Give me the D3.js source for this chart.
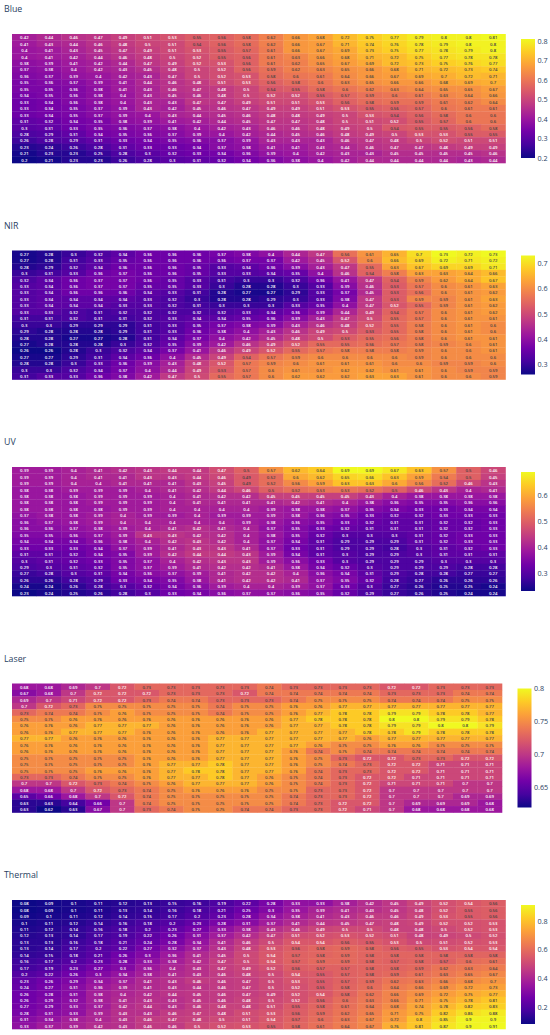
<!DOCTYPE html>
<html>
<head>
<meta charset="utf-8">
<script src="https://cdn.jsdelivr.net/npm/d3@7"></script>
<style>
  body { margin: 0; background: #fff; }
  svg { display: block; font-family: "Open Sans", sans-serif; }
</style>
</head>
<body>
<div id="wrapper"></div>
<script>
const panelNames = ["Blue", "NIR", "UV", "Laser", "Thermal"];

const blueValues = [
  [0.42,0.44,0.46,0.47,0.49,0.51,0.53,0.55,0.56,0.58,0.62,0.66,0.68,0.72,0.75,0.77,0.79,0.8,0.8,0.81],
  [0.41,0.43,0.44,0.46,0.48,0.5,0.51,0.54,0.56,0.58,0.62,0.66,0.67,0.71,0.74,0.76,0.78,0.79,0.8,0.8],
  [0.4,0.41,0.43,0.45,0.47,0.49,0.51,0.53,0.55,0.57,0.61,0.66,0.67,0.69,0.73,0.75,0.77,0.78,0.79,0.8],
  [0.4,0.41,0.42,0.44,0.46,0.48,0.5,0.52,0.55,0.56,0.61,0.63,0.66,0.68,0.71,0.72,0.75,0.77,0.78,0.78],
  [0.38,0.39,0.41,0.42,0.44,0.47,0.49,0.52,0.53,0.56,0.61,0.62,0.65,0.67,0.69,0.72,0.73,0.75,0.76,0.77],
  [0.37,0.38,0.4,0.42,0.43,0.45,0.48,0.5,0.52,0.56,0.59,0.62,0.63,0.65,0.66,0.68,0.71,0.72,0.73,0.74],
  [0.36,0.37,0.39,0.4,0.42,0.43,0.47,0.5,0.52,0.53,0.58,0.6,0.61,0.64,0.66,0.67,0.69,0.7,0.72,0.71],
  [0.35,0.36,0.37,0.39,0.41,0.44,0.46,0.48,0.51,0.53,0.56,0.58,0.6,0.63,0.65,0.66,0.66,0.68,0.69,0.7],
  [0.35,0.35,0.36,0.38,0.41,0.43,0.46,0.47,0.48,0.5,0.54,0.55,0.58,0.6,0.62,0.63,0.64,0.65,0.65,0.67],
  [0.34,0.35,0.36,0.38,0.4,0.43,0.45,0.46,0.48,0.5,0.52,0.52,0.55,0.57,0.59,0.6,0.61,0.63,0.64,0.66],
  [0.33,0.34,0.36,0.38,0.4,0.43,0.43,0.47,0.47,0.49,0.51,0.51,0.53,0.56,0.58,0.59,0.59,0.61,0.62,0.64],
  [0.33,0.34,0.35,0.37,0.39,0.43,0.42,0.45,0.46,0.47,0.49,0.49,0.51,0.53,0.55,0.56,0.57,0.6,0.61,0.61],
  [0.33,0.34,0.35,0.37,0.39,0.4,0.43,0.44,0.45,0.46,0.48,0.48,0.49,0.5,0.53,0.54,0.56,0.58,0.6,0.6],
  [0.31,0.32,0.34,0.35,0.38,0.39,0.41,0.42,0.44,0.45,0.47,0.47,0.48,0.5,0.51,0.52,0.55,0.57,0.6,0.6],
  [0.3,0.31,0.33,0.35,0.36,0.37,0.38,0.4,0.42,0.43,0.46,0.46,0.48,0.49,0.5,0.54,0.55,0.55,0.56,0.58],
  [0.28,0.29,0.31,0.34,0.35,0.36,0.37,0.39,0.4,0.42,0.44,0.45,0.46,0.48,0.49,0.5,0.53,0.53,0.55,0.55],
  [0.26,0.28,0.29,0.31,0.33,0.34,0.35,0.36,0.37,0.39,0.43,0.43,0.43,0.46,0.47,0.48,0.5,0.52,0.51,0.51],
  [0.23,0.24,0.26,0.28,0.31,0.33,0.33,0.34,0.37,0.38,0.41,0.41,0.43,0.44,0.46,0.47,0.47,0.48,0.49,0.49],
  [0.21,0.23,0.23,0.25,0.28,0.3,0.32,0.33,0.34,0.36,0.39,0.4,0.42,0.43,0.43,0.45,0.45,0.45,0.45,0.46],
  [0.2,0.21,0.23,0.23,0.26,0.28,0.3,0.31,0.32,0.34,0.36,0.38,0.4,0.42,0.44,0.44,0.44,0.44,0.43,0.44]
];

const nirValues = [
  [0.27,0.28,0.3,0.32,0.34,0.36,0.36,0.36,0.37,0.38,0.4,0.44,0.47,0.56,0.61,0.65,0.7,0.73,0.72,0.73],
  [0.27,0.28,0.31,0.33,0.35,0.36,0.36,0.36,0.36,0.37,0.37,0.42,0.45,0.52,0.6,0.66,0.69,0.72,0.71,0.72],
  [0.28,0.29,0.32,0.34,0.36,0.36,0.36,0.35,0.33,0.34,0.36,0.39,0.43,0.47,0.55,0.63,0.67,0.69,0.69,0.71],
  [0.3,0.31,0.33,0.36,0.37,0.36,0.36,0.35,0.33,0.33,0.34,0.35,0.4,0.46,0.54,0.58,0.63,0.63,0.64,0.66],
  [0.32,0.34,0.36,0.37,0.37,0.36,0.35,0.33,0.31,0.3,0.3,0.32,0.36,0.41,0.47,0.54,0.59,0.62,0.64,0.67],
  [0.33,0.34,0.36,0.37,0.37,0.35,0.35,0.33,0.3,0.28,0.28,0.3,0.33,0.39,0.46,0.53,0.57,0.6,0.61,0.63],
  [0.33,0.34,0.36,0.36,0.36,0.34,0.33,0.31,0.28,0.27,0.27,0.29,0.33,0.37,0.45,0.53,0.56,0.6,0.61,0.62],
  [0.33,0.34,0.34,0.34,0.34,0.33,0.32,0.3,0.28,0.28,0.29,0.3,0.33,0.38,0.47,0.53,0.59,0.59,0.61,0.63],
  [0.33,0.34,0.34,0.34,0.33,0.33,0.32,0.31,0.3,0.3,0.3,0.33,0.35,0.4,0.47,0.52,0.55,0.59,0.61,0.62],
  [0.33,0.33,0.32,0.31,0.32,0.32,0.32,0.32,0.32,0.33,0.34,0.36,0.39,0.44,0.49,0.54,0.57,0.6,0.61,0.62],
  [0.31,0.31,0.32,0.31,0.31,0.32,0.33,0.34,0.34,0.35,0.36,0.39,0.43,0.47,0.5,0.55,0.57,0.6,0.61,0.61],
  [0.3,0.3,0.29,0.29,0.29,0.31,0.33,0.35,0.37,0.38,0.39,0.43,0.46,0.48,0.52,0.55,0.58,0.6,0.61,0.6],
  [0.29,0.28,0.28,0.28,0.29,0.31,0.33,0.36,0.38,0.4,0.43,0.46,0.49,0.5,0.53,0.55,0.58,0.6,0.61,0.6],
  [0.28,0.28,0.27,0.27,0.28,0.31,0.34,0.37,0.4,0.42,0.45,0.48,0.5,0.53,0.55,0.56,0.58,0.6,0.61,0.61],
  [0.27,0.28,0.28,0.28,0.3,0.32,0.35,0.39,0.42,0.46,0.49,0.52,0.55,0.55,0.56,0.57,0.58,0.59,0.6,0.61],
  [0.26,0.26,0.28,0.3,0.32,0.34,0.37,0.41,0.46,0.49,0.52,0.55,0.57,0.58,0.58,0.58,0.59,0.6,0.6,0.61],
  [0.27,0.27,0.29,0.31,0.34,0.36,0.4,0.45,0.49,0.54,0.57,0.59,0.6,0.6,0.6,0.6,0.59,0.6,0.6,0.6],
  [0.28,0.28,0.3,0.33,0.36,0.39,0.43,0.48,0.52,0.57,0.59,0.6,0.61,0.61,0.61,0.6,0.6,0.59,0.59,0.6],
  [0.3,0.3,0.32,0.34,0.37,0.4,0.44,0.49,0.53,0.57,0.6,0.61,0.61,0.62,0.62,0.61,0.61,0.6,0.59,0.59],
  [0.31,0.33,0.33,0.36,0.38,0.42,0.47,0.5,0.55,0.57,0.6,0.62,0.62,0.62,0.63,0.63,0.61,0.6,0.6,0.59]
];

const uvValues = [
  [0.39,0.39,0.4,0.41,0.42,0.43,0.44,0.44,0.47,0.5,0.57,0.62,0.64,0.69,0.69,0.67,0.63,0.57,0.5,0.46],
  [0.39,0.39,0.4,0.41,0.41,0.43,0.43,0.44,0.46,0.49,0.52,0.6,0.62,0.65,0.66,0.63,0.59,0.54,0.5,0.45],
  [0.39,0.39,0.4,0.4,0.41,0.41,0.41,0.43,0.45,0.49,0.52,0.56,0.59,0.63,0.63,0.6,0.56,0.52,0.46,0.43],
  [0.38,0.38,0.39,0.39,0.39,0.4,0.41,0.42,0.44,0.46,0.5,0.52,0.53,0.53,0.52,0.5,0.46,0.43,0.4,0.41],
  [0.38,0.38,0.38,0.39,0.39,0.39,0.4,0.41,0.42,0.42,0.45,0.45,0.45,0.45,0.43,0.4,0.38,0.38,0.38,0.38],
  [0.38,0.38,0.38,0.39,0.39,0.39,0.4,0.41,0.41,0.41,0.41,0.42,0.41,0.4,0.38,0.36,0.35,0.35,0.36,0.36],
  [0.38,0.38,0.38,0.38,0.39,0.39,0.4,0.4,0.4,0.4,0.39,0.38,0.38,0.37,0.35,0.34,0.33,0.33,0.34,0.34],
  [0.37,0.38,0.38,0.39,0.4,0.39,0.39,0.4,0.39,0.39,0.39,0.38,0.36,0.35,0.33,0.32,0.32,0.33,0.33,0.33],
  [0.36,0.37,0.38,0.39,0.4,0.4,0.4,0.4,0.4,0.39,0.38,0.36,0.35,0.33,0.32,0.31,0.31,0.32,0.32,0.33],
  [0.36,0.36,0.37,0.38,0.39,0.4,0.41,0.42,0.41,0.4,0.37,0.35,0.33,0.32,0.31,0.31,0.31,0.32,0.32,0.33],
  [0.35,0.35,0.36,0.37,0.39,0.43,0.43,0.42,0.42,0.4,0.38,0.35,0.32,0.3,0.3,0.3,0.31,0.32,0.33,0.33],
  [0.34,0.34,0.34,0.36,0.38,0.4,0.42,0.43,0.42,0.4,0.37,0.34,0.31,0.29,0.29,0.29,0.31,0.32,0.33,0.33],
  [0.33,0.33,0.33,0.34,0.37,0.39,0.41,0.43,0.43,0.41,0.37,0.33,0.31,0.29,0.29,0.28,0.3,0.31,0.32,0.33],
  [0.31,0.31,0.32,0.34,0.35,0.39,0.42,0.44,0.44,0.43,0.39,0.34,0.31,0.3,0.29,0.29,0.3,0.31,0.31,0.31],
  [0.3,0.31,0.32,0.33,0.35,0.37,0.4,0.42,0.43,0.43,0.39,0.36,0.33,0.3,0.29,0.29,0.29,0.3,0.3,0.3],
  [0.29,0.3,0.31,0.32,0.35,0.37,0.39,0.41,0.42,0.42,0.41,0.38,0.34,0.32,0.3,0.29,0.29,0.29,0.28,0.28],
  [0.27,0.28,0.3,0.31,0.34,0.36,0.37,0.39,0.41,0.42,0.42,0.4,0.36,0.34,0.31,0.29,0.28,0.28,0.27,0.27],
  [0.26,0.26,0.28,0.29,0.33,0.34,0.35,0.38,0.41,0.42,0.42,0.41,0.37,0.35,0.32,0.28,0.27,0.26,0.26,0.26],
  [0.24,0.24,0.26,0.28,0.3,0.32,0.34,0.36,0.39,0.4,0.4,0.39,0.37,0.33,0.3,0.27,0.26,0.25,0.25,0.24],
  [0.23,0.24,0.25,0.26,0.28,0.3,0.33,0.34,0.36,0.37,0.37,0.36,0.35,0.32,0.29,0.27,0.26,0.25,0.24,0.24]
];

const laserValues = [
  [0.68,0.68,0.69,0.7,0.72,0.73,0.73,0.73,0.73,0.73,0.74,0.73,0.73,0.73,0.73,0.72,0.72,0.73,0.73,0.73],
  [0.67,0.68,0.7,0.72,0.72,0.72,0.73,0.73,0.73,0.72,0.74,0.74,0.74,0.74,0.74,0.73,0.73,0.73,0.74,0.74],
  [0.69,0.7,0.71,0.72,0.72,0.73,0.74,0.74,0.73,0.73,0.73,0.74,0.75,0.75,0.75,0.74,0.74,0.74,0.75,0.75],
  [0.7,0.72,0.73,0.75,0.75,0.75,0.75,0.75,0.74,0.75,0.75,0.76,0.76,0.77,0.77,0.77,0.77,0.77,0.77,0.77],
  [0.73,0.74,0.74,0.75,0.76,0.75,0.75,0.75,0.74,0.75,0.75,0.76,0.77,0.78,0.78,0.79,0.79,0.78,0.78,0.77],
  [0.75,0.75,0.76,0.76,0.76,0.76,0.76,0.76,0.76,0.76,0.76,0.77,0.78,0.78,0.78,0.8,0.8,0.79,0.79,0.78],
  [0.76,0.76,0.76,0.77,0.77,0.77,0.76,0.76,0.76,0.76,0.76,0.77,0.77,0.78,0.78,0.79,0.79,0.8,0.8,0.79],
  [0.76,0.76,0.77,0.77,0.77,0.76,0.76,0.76,0.76,0.76,0.77,0.77,0.77,0.77,0.78,0.78,0.79,0.78,0.78,0.78],
  [0.77,0.77,0.76,0.76,0.76,0.76,0.76,0.76,0.77,0.77,0.77,0.77,0.77,0.77,0.76,0.77,0.77,0.77,0.77,0.77],
  [0.76,0.76,0.76,0.76,0.76,0.76,0.76,0.76,0.77,0.77,0.77,0.77,0.76,0.75,0.75,0.76,0.76,0.75,0.75,0.75],
  [0.76,0.76,0.76,0.76,0.76,0.76,0.76,0.76,0.77,0.77,0.77,0.76,0.74,0.75,0.74,0.74,0.74,0.74,0.74,0.74],
  [0.75,0.75,0.75,0.75,0.75,0.76,0.76,0.76,0.77,0.77,0.77,0.76,0.75,0.73,0.72,0.72,0.73,0.73,0.72,0.72],
  [0.75,0.75,0.75,0.75,0.75,0.76,0.77,0.77,0.78,0.77,0.77,0.76,0.75,0.74,0.73,0.72,0.72,0.71,0.71,0.71],
  [0.75,0.75,0.75,0.76,0.76,0.76,0.77,0.78,0.78,0.77,0.77,0.76,0.74,0.73,0.73,0.72,0.72,0.71,0.71,0.71],
  [0.73,0.73,0.74,0.75,0.75,0.76,0.77,0.77,0.78,0.77,0.76,0.75,0.74,0.73,0.72,0.72,0.71,0.71,0.71,0.71],
  [0.7,0.7,0.72,0.73,0.74,0.75,0.76,0.77,0.77,0.77,0.76,0.75,0.74,0.73,0.72,0.71,0.71,0.71,0.7,0.7],
  [0.68,0.68,0.7,0.72,0.73,0.74,0.75,0.76,0.76,0.76,0.75,0.75,0.73,0.73,0.72,0.7,0.7,0.7,0.7,0.7],
  [0.65,0.66,0.68,0.7,0.72,0.74,0.75,0.75,0.75,0.75,0.75,0.74,0.73,0.73,0.72,0.7,0.7,0.7,0.69,0.69],
  [0.63,0.63,0.64,0.66,0.7,0.74,0.75,0.75,0.75,0.75,0.75,0.74,0.73,0.72,0.72,0.7,0.69,0.69,0.69,0.68],
  [0.63,0.62,0.63,0.67,0.7,0.73,0.74,0.75,0.75,0.74,0.74,0.73,0.73,0.72,0.71,0.7,0.68,0.68,0.68,0.68]
];

const thermalValues = [
  [0.08,0.09,0.1,0.11,0.12,0.13,0.15,0.16,0.19,0.22,0.28,0.33,0.33,0.38,0.42,0.45,0.49,0.52,0.54,0.56],
  [0.08,0.09,0.1,0.11,0.13,0.14,0.16,0.18,0.21,0.25,0.3,0.35,0.39,0.41,0.43,0.45,0.48,0.52,0.55,0.56],
  [0.09,0.1,0.11,0.12,0.14,0.15,0.17,0.2,0.23,0.28,0.34,0.38,0.41,0.43,0.46,0.46,0.49,0.53,0.55,0.56],
  [0.1,0.11,0.12,0.14,0.16,0.18,0.2,0.23,0.28,0.31,0.37,0.41,0.44,0.45,0.47,0.48,0.49,0.52,0.52,0.53],
  [0.11,0.12,0.14,0.16,0.18,0.2,0.23,0.27,0.33,0.38,0.43,0.46,0.49,0.5,0.5,0.48,0.48,0.5,0.52,0.53],
  [0.12,0.13,0.14,0.17,0.19,0.22,0.26,0.31,0.37,0.42,0.47,0.51,0.52,0.53,0.52,0.51,0.48,0.49,0.5,0.52],
  [0.13,0.13,0.16,0.18,0.21,0.24,0.28,0.34,0.41,0.46,0.5,0.54,0.54,0.56,0.55,0.53,0.5,0.51,0.52,0.53],
  [0.13,0.14,0.17,0.2,0.22,0.27,0.32,0.37,0.43,0.48,0.53,0.56,0.58,0.59,0.58,0.56,0.55,0.53,0.54,0.54],
  [0.14,0.15,0.18,0.21,0.26,0.3,0.36,0.41,0.45,0.5,0.54,0.57,0.58,0.59,0.58,0.58,0.58,0.58,0.58,0.58],
  [0.16,0.17,0.2,0.23,0.28,0.33,0.38,0.42,0.47,0.5,0.54,0.57,0.59,0.59,0.58,0.57,0.58,0.57,0.6,0.61],
  [0.17,0.19,0.23,0.27,0.3,0.36,0.4,0.43,0.47,0.49,0.52,0.56,0.57,0.57,0.58,0.58,0.59,0.62,0.63,0.64],
  [0.2,0.22,0.26,0.3,0.34,0.38,0.41,0.43,0.46,0.48,0.5,0.54,0.55,0.57,0.58,0.59,0.61,0.63,0.65,0.67],
  [0.23,0.26,0.29,0.34,0.37,0.41,0.43,0.46,0.46,0.47,0.5,0.53,0.55,0.57,0.59,0.62,0.63,0.66,0.68,0.7],
  [0.24,0.27,0.31,0.36,0.39,0.41,0.43,0.44,0.46,0.47,0.5,0.52,0.55,0.58,0.6,0.64,0.66,0.69,0.72,0.73],
  [0.26,0.28,0.31,0.38,0.4,0.42,0.44,0.45,0.46,0.47,0.49,0.52,0.54,0.58,0.62,0.66,0.69,0.72,0.75,0.77],
  [0.26,0.29,0.32,0.38,0.41,0.43,0.43,0.45,0.46,0.48,0.5,0.52,0.56,0.6,0.63,0.66,0.71,0.75,0.78,0.81],
  [0.27,0.29,0.33,0.37,0.42,0.44,0.43,0.46,0.48,0.48,0.51,0.55,0.58,0.61,0.64,0.68,0.74,0.78,0.82,0.83],
  [0.28,0.31,0.33,0.39,0.43,0.43,0.46,0.47,0.48,0.51,0.53,0.56,0.59,0.62,0.65,0.71,0.75,0.82,0.86,0.88],
  [0.31,0.34,0.38,0.4,0.43,0.46,0.47,0.48,0.5,0.51,0.54,0.57,0.6,0.63,0.67,0.72,0.8,0.85,0.9,0.9],
  [0.33,0.37,0.39,0.42,0.43,0.46,0.46,0.5,0.52,0.53,0.55,0.58,0.61,0.64,0.67,0.76,0.81,0.87,0.9,0.91]
];

const blueTicks = [0.2, 0.3, 0.4, 0.5, 0.6, 0.7, 0.8];
const nirTicks = [0.3, 0.4, 0.5, 0.6, 0.7];
const uvTicks = [0.3, 0.4, 0.5, 0.6];
const laserTicks = [0.65, 0.7, 0.75, 0.8];
const thermalTicks = [0.2, 0.4, 0.6, 0.8];

const panelValues = [blueValues, nirValues, uvValues, laserValues, thermalValues];
const panelTicks = [blueTicks, nirTicks, uvTicks, laserTicks, thermalTicks];

// plotly "Plasma"
const plasmaStops = ["#0d0887", "#46039f", "#7201a8", "#9c179e", "#bd3786",
                     "#d8576b", "#ed7953", "#fb9f3a", "#fdca26", "#f0f921"];

const width = 550;
const height = 1035;
const panelStep = 216.5;

const svg = d3.select("#wrapper")
    .append("svg")
    .attr("width", width)
    .attr("height", height);

const defs = svg.append("defs");

panelNames.forEach((name, i) => drawPanel(name, panelValues[i], panelTicks[i], i));

function drawPanel(name, values, ticks, index) {
    const top = 34 + index * panelStep;
    const plotHeight = 129;
    const labelChars = d3.max(ticks, t => String(t).length);
    const left = 12;
    const right = 505.5 - (labelChars - 3) * 3.5;

    const [zmin, zmax] = d3.extent(values.flat());
    const t = d3.scaleLinear()
        .domain(d3.range(plasmaStops.length).map(k => zmin + (zmax - zmin) * k / (plasmaStops.length - 1)))
        .range(plasmaStops)
        .interpolate(d3.interpolateRgb)
        .clamp(true);

    const rows = d3.range(values.length);
    const cols = d3.range(values[0].length);

    const xScale = d3.scaleBand().domain(cols).range([left, right]);
    const yScale = d3.scaleBand().domain(rows).range([top, top + plotHeight]);

    svg.append("text")
        .attr("x", 4)
        .attr("y", top - 22)
        .attr("font-size", 8.8)
        .attr("fill", "#2a3f5f")
        .text(name);

    const cells = svg.append("g");
    const flat = [];
    values.forEach((row, r) => row.forEach((v, c) => flat.push({ r, c, v })));

    cells.selectAll("rect")
        .data(flat)
        .join("rect")
        .attr("x", d => xScale(d.c))
        .attr("y", d => yScale(d.r))
        .attr("width", xScale.bandwidth() + 0.3)
        .attr("height", yScale.bandwidth() + 0.3)
        .attr("fill", d => t(d.v));

    cells.selectAll("text")
        .data(flat)
        .join("text")
        .attr("x", d => xScale(d.c) + xScale.bandwidth() / 2)
        .attr("y", d => yScale(d.r) + yScale.bandwidth() / 2)
        .attr("text-anchor", "middle")
        .attr("dominant-baseline", "central")
        .attr("font-size", 4.3)
        .attr("font-weight", 600)
        .attr("fill", d => textColor(t(d.v)))
        .text(d => String(d.v));

    // colour bar
    const barX = right + 15.5;
    const barTop = top + 5;
    const barBottom = top + plotHeight - 5;
    const gradId = "grad" + index;
    const grad = defs.append("linearGradient")
        .attr("id", gradId)
        .attr("x1", 0).attr("y1", 1)
        .attr("x2", 0).attr("y2", 0);
    grad.selectAll("stop")
        .data(plasmaStops)
        .join("stop")
        .attr("offset", (d, k) => k / (plasmaStops.length - 1))
        .attr("stop-color", d => d);

    svg.append("rect")
        .attr("x", barX)
        .attr("y", barTop)
        .attr("width", 14)
        .attr("height", barBottom - barTop)
        .attr("fill", `url(#${gradId})`);

    const barScale = d3.scaleLinear()
        .domain([zmin, zmax])
        .range([barBottom, barTop]);

    const barAxis = svg.append("g")
        .style("transform", translate(barX + 14, 0))
        .call(d3.axisRight(barScale).tickValues(ticks).tickSize(0).tickPadding(2.5).tickFormat(d => String(d)));
    barAxis.select(".domain").remove();
    barAxis.selectAll("text")
        .attr("font-size", 7.2)
        .attr("font-family", "Open Sans, sans-serif")
        .attr("fill", "#2a3f5f");
}

function textColor(c) {
    const rgb = d3.rgb(c);
    const brightness = (rgb.r * 299 + rgb.g * 587 + rgb.b * 114) / 1000;
    return brightness >= 128 ? "#444" : "#fff";
}

function translate(x, y) {
    return `translate(${x}px, ${y}px)`;
}
</script>
</body>
</html>
